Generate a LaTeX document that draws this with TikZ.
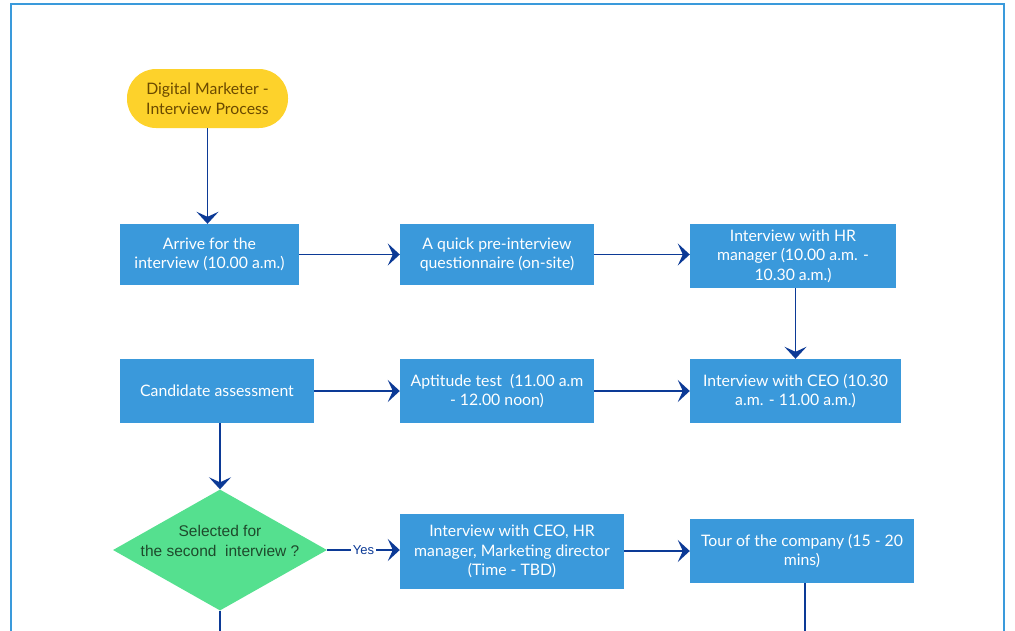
\documentclass[tikz,border=0pt]{standalone}
\usepackage{fontspec}
\setmainfont{Lato}
\newfontfamily\arialf{Liberation Sans}
\usetikzlibrary{arrows.meta,shapes.geometric}
\definecolor{boxblue}{HTML}{3A99DB}
\definecolor{framec}{HTML}{3A9ADB}
\definecolor{navy}{HTML}{0C3A96}
\definecolor{termy}{HTML}{FDD22B}
\definecolor{termtxt}{HTML}{6B4A00}
\definecolor{diag}{HTML}{55E08F}
\definecolor{diagtxt}{HTML}{1E4A2C}
\tikzset{
  x=1pt, y=-1pt,
  procbox/.style={draw=none, fill=boxblue, text=white, font=\fontsize{15.8}{19.5}\selectfont, align=center, inner sep=0pt},
  termbox/.style={draw=none, fill=termy, text=termtxt, rounded corners=29pt, font=\fontsize{15.8}{19.5}\selectfont, align=center, inner sep=0pt},
  decbox/.style={diamond, draw=none, fill=diag, aspect=1.77, inner sep=0pt},
  dectext/.style={text=diagtxt, font=\arialf\fontsize{15.5}{19.5}\selectfont, align=center, inner sep=0pt},
  conn/.style={draw=navy, line width=1.8pt, -{Stealth[length=12pt, width=22pt, inset=5pt]}},
  plain/.style={draw=navy, line width=1.8pt},
}
\begin{document}
\begin{tikzpicture}
\useasboundingbox (0,0) rectangle (1015,630);
\draw[framec, line width=2pt] (11,640) -- (11,4) -- (1004,4) -- (1004,640);

\node[termbox, minimum width=161pt, minimum height=59pt] (start) at (207.5,98.5) {Digital Marketer -\\Interview Process};

\node[procbox, minimum width=179pt, minimum height=61pt] (arrive) at (209.5,254.5) {Arrive for the\\interview (10.00 a.m.)};
\node[procbox, minimum width=194pt, minimum height=61pt] (quest) at (497,254.5) {A quick pre-interview\\questionnaire (on-site)};
\node[procbox, minimum width=206pt, minimum height=64pt] (hr) at (793,256) {Interview with HR\\manager (10.00 a.m. -\\10.30 a.m.)};

\node[procbox, minimum width=194pt, minimum height=64pt] (assess) at (217,391) {Candidate assessment};
\node[procbox, minimum width=194pt, minimum height=64pt] (apt) at (497,391) {Aptitude test\ \ (11.00 a.m\\- 12.00 noon)};
\node[procbox, minimum width=211pt, minimum height=64pt] (ceo) at (795.5,391) {Interview with CEO (10.30\\a.m. - 11.00 a.m.)};

\node[decbox, minimum width=214pt, minimum height=121pt] (sel) at (220,550) {};
\node[dectext] (seltext) at (220,541) {Selected for\\the second\ \ interview ?};
\node[procbox, minimum width=224pt, minimum height=75pt] (ceo2) at (512,551.5) {Interview with CEO, HR\\manager, Marketing director\\(Time - TBD)};
\node[procbox, minimum width=224pt, minimum height=64pt] (tour) at (802,551) {Tour of the company (15 - 20\\mins)};

\coordinate (selend) at (220,640);
\coordinate (tourend) at (805,640);

\draw[conn] (start.south) -- (start.south |- arrive.north);
\draw[conn] (arrive) -- (quest);
\draw[conn] (quest) -- (hr.west |- quest);
\draw[conn] (hr.south -| ceo.north) -- (ceo.north);
\draw[conn] (assess) -- (apt);
\draw[conn] (apt) -- (ceo);
\draw[conn] (assess.south -| sel.north) -- (sel.north);
\draw[conn] (sel.east) -- node[fill=white, inner sep=2pt, text=navy, font=\arialf\fontsize{13}{15}\selectfont] {Yes} (ceo2.west |- sel.east);
\draw[conn] (ceo2.east |- tour) -- (tour.west);
\draw[plain] (sel.south) -- (selend);
\draw[plain] (tour.south -| tourend) -- (tourend);
\end{tikzpicture}
\end{document}
